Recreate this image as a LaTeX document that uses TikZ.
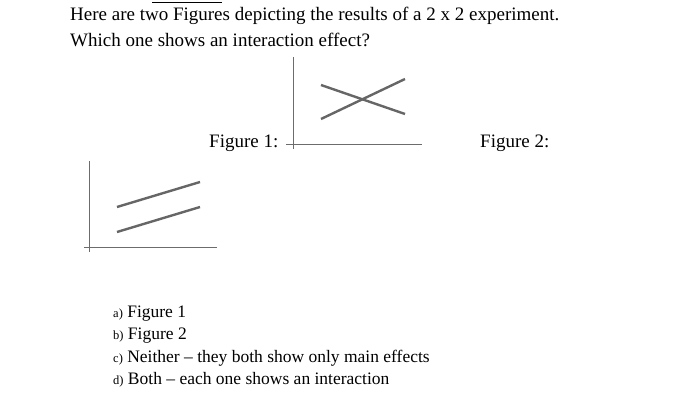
\documentclass[tikz,border=0pt]{standalone}
\usepackage{fontspec}
\setmainfont{Liberation Serif}
\begin{document}
\begin{tikzpicture}[x=1pt,y=-1pt,
  ax/.style={draw=gray!85!black,line width=1pt},
  ln/.style={draw=gray!80!black,line width=2.4pt},
  txt/.style={anchor=west,inner sep=0pt,font=\fontsize{19}{22}\selectfont},
  ans/.style={anchor=west,inner sep=0pt,font=\fontsize{17.5}{20}\selectfont}]
\useasboundingbox (0,0) rectangle (700,403);
\draw[line width=0.8pt] (152,2) -- (222,2);
\node[txt] (t1) at (70,16) {Here are two Figures depicting the results of a 2 x 2 experiment.};
\node[txt] (t2) at (70,40) {Which one shows an interaction effect?};
\node[txt] (f1) at (209,143) {Figure 1:};
\node[txt] (f2) at (480,143) {Figure 2:};
% figure 1
\coordinate (a1) at (293,57); \coordinate (a2) at (293,149);
\coordinate (b1) at (286,145); \coordinate (b2) at (422,145);
\draw[ax] (a1) -- (a2); \draw[ax] (b1) -- (b2);
\coordinate (c1) at (321,85); \coordinate (c2) at (405,114);
\coordinate (c3) at (321,119); \coordinate (c4) at (405,79);
\draw[ln] (c1) -- (c2); \draw[ln] (c3) -- (c4);
% figure 2
\coordinate (d1) at (89,161); \coordinate (d2) at (89,252);
\coordinate (e1) at (84,247); \coordinate (e2) at (217,247);
\draw[ax] (d1) -- (d2); \draw[ax] (e1) -- (e2);
\coordinate (g1) at (117,207); \coordinate (g2) at (200,182);
\coordinate (g3) at (117,232); \coordinate (g4) at (200,207);
\draw[ln] (g1) -- (g2); \draw[ln] (g3) -- (g4);
% answers
\node[ans] (qa) at (113,314) {{\fontsize{12.5}{14}\selectfont a)} Figure 1};
\node[ans] (qb) at (113,336) {{\fontsize{12.5}{14}\selectfont b)} Figure 2};
\node[ans] (qc) at (113,358) {{\fontsize{12.5}{14}\selectfont c)} Neither -- they both show only main effects};
\node[ans] (qd) at (113,380) {{\fontsize{12.5}{14}\selectfont d)} Both -- each one shows an interaction};
\end{tikzpicture}
\end{document}
